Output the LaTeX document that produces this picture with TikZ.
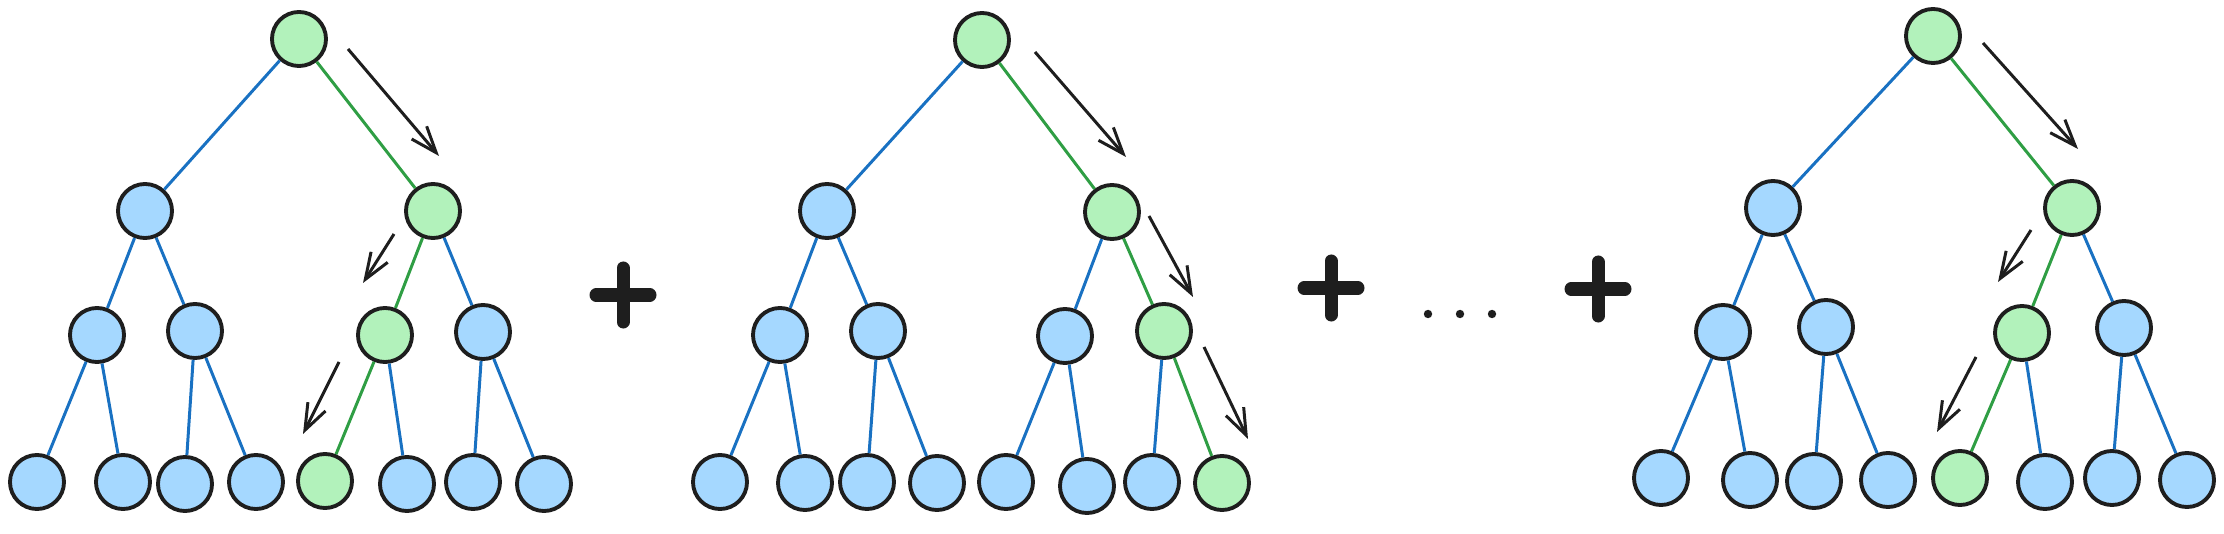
\documentclass[tikz,border=0pt]{standalone}
\usetikzlibrary{arrows.meta}
\definecolor{nodeblue}{HTML}{A5D8FF}
\definecolor{nodegreen}{HTML}{B2F2BB}
\definecolor{edgeblue}{HTML}{1971C2}
\definecolor{edgegreen}{HTML}{2F9E44}
\definecolor{ink}{HTML}{1E1E1E}
\begin{document}
\begin{tikzpicture}[x=0.01cm,y=-0.01cm,
 tn/.style={circle,draw=ink,line width=1.1pt,minimum size=0.54cm,inner sep=0pt},
 bn/.style={tn,fill=nodeblue},
 gn/.style={tn,fill=nodegreen},
 be/.style={draw=edgeblue,line width=0.85pt},
 ge/.style={draw=edgegreen,line width=0.85pt},
 hint/.style={draw=ink,line width=0.85pt,-{Straight Barb[length=7.5pt,width=5.6pt]}},
 plusbar/.style={draw=ink,line width=3.7pt,line cap=round}]
\useasboundingbox (0,0) rectangle (2224,534);

% ---------- Tree 1 ----------
\node[gn] (t1r) at (299,39) {};
\node[bn] (t1a) at (145,211) {};
\node[gn] (t1b) at (433,211) {};
\node[bn] (t1aa) at (97,335) {};
\node[bn] (t1ab) at (195,331) {};
\node[gn] (t1ba) at (385,335) {};
\node[bn] (t1bb) at (483,332) {};
\node[bn] (t1aaa) at (37,482) {};
\node[bn] (t1aab) at (123,482) {};
\node[bn] (t1aba) at (185,484) {};
\node[bn] (t1abb) at (256,482) {};
\node[gn] (t1baa) at (325,481) {};
\node[bn] (t1bab) at (407,484) {};
\node[bn] (t1bba) at (473,482) {};
\node[bn] (t1bbb) at (544,484) {};
\draw[be] (t1r) -- (t1a);
\draw[ge] (t1r) -- (t1b);
\draw[be] (t1a) -- (t1aa);
\draw[be] (t1a) -- (t1ab);
\draw[ge] (t1b) -- (t1ba);
\draw[be] (t1b) -- (t1bb);
\draw[be] (t1aa) -- (t1aaa);
\draw[be] (t1aa) -- (t1aab);
\draw[be] (t1ab) -- (t1aba);
\draw[be] (t1ab) -- (t1abb);
\draw[ge] (t1ba) -- (t1baa);
\draw[be] (t1ba) -- (t1bab);
\draw[be] (t1bb) -- (t1bba);
\draw[be] (t1bb) -- (t1bbb);
\coordinate (h11s) at (348,49);  \coordinate (h11e) at (439,156);
\coordinate (h12s) at (394,234); \coordinate (h12e) at (363,283);
\coordinate (h13s) at (339,362); \coordinate (h13e) at (303,434);
\draw[hint] (h11s) -- (h11e);
\draw[hint] (h12s) -- (h12e);
\draw[hint] (h13s) -- (h13e);

% ---------- plus 1 ----------
\draw[plusbar] (596,295) -- (650,295);
\draw[plusbar] (623,268) -- (623,322);

% ---------- Tree 2 ----------
\node[gn] (t2r) at (982,40) {};
\node[bn] (t2a) at (827,211) {};
\node[gn] (t2b) at (1112,212) {};
\node[bn] (t2aa) at (780,335) {};
\node[bn] (t2ab) at (878,331) {};
\node[bn] (t2ba) at (1065,336) {};
\node[gn] (t2bb) at (1164,331) {};
\node[bn] (t2aaa) at (720,482) {};
\node[bn] (t2aab) at (805,483) {};
\node[bn] (t2aba) at (867,482) {};
\node[bn] (t2abb) at (937,483) {};
\node[bn] (t2baa) at (1006,482) {};
\node[bn] (t2bab) at (1087,486) {};
\node[bn] (t2bba) at (1152,482) {};
\node[gn] (t2bbb) at (1222,483) {};
\draw[be] (t2r) -- (t2a);
\draw[ge] (t2r) -- (t2b);
\draw[be] (t2a) -- (t2aa);
\draw[be] (t2a) -- (t2ab);
\draw[be] (t2b) -- (t2ba);
\draw[ge] (t2b) -- (t2bb);
\draw[be] (t2aa) -- (t2aaa);
\draw[be] (t2aa) -- (t2aab);
\draw[be] (t2ab) -- (t2aba);
\draw[be] (t2ab) -- (t2abb);
\draw[be] (t2ba) -- (t2baa);
\draw[be] (t2ba) -- (t2bab);
\draw[be] (t2bb) -- (t2bba);
\draw[ge] (t2bb) -- (t2bbb);
\coordinate (h21s) at (1035,52);  \coordinate (h21e) at (1126,157);
\coordinate (h22s) at (1149,216); \coordinate (h22e) at (1193,297);
\coordinate (h23s) at (1204,347); \coordinate (h23e) at (1248,439);
\draw[hint] (h21s) -- (h21e);
\draw[hint] (h22s) -- (h22e);
\draw[hint] (h23s) -- (h23e);

% ---------- plus 2, dots, plus 3 ----------
\draw[plusbar] (1304,288) -- (1358,288);
\draw[plusbar] (1331,261) -- (1331,315);
\fill[ink] (1428,314) circle (0.042cm);
\fill[ink] (1460,314) circle (0.042cm);
\fill[ink] (1492,314) circle (0.042cm);
\draw[plusbar] (1571,289) -- (1625,289);
\draw[plusbar] (1598,262) -- (1598,316);

% ---------- Tree 3 ----------
\node[gn] (t3r) at (1933,36) {};
\node[bn] (t3a) at (1773,208) {};
\node[gn] (t3b) at (2072,208) {};
\node[bn] (t3aa) at (1723,332) {};
\node[bn] (t3ab) at (1826,327) {};
\node[gn] (t3ba) at (2022,333) {};
\node[bn] (t3bb) at (2124,328) {};
\node[bn] (t3aaa) at (1661,478) {};
\node[bn] (t3aab) at (1750,480) {};
\node[bn] (t3aba) at (1814,481) {};
\node[bn] (t3abb) at (1888,480) {};
\node[gn] (t3baa) at (1960,478) {};
\node[bn] (t3bab) at (2045,482) {};
\node[bn] (t3bba) at (2112,478) {};
\node[bn] (t3bbb) at (2187,480) {};
\draw[be] (t3r) -- (t3a);
\draw[ge] (t3r) -- (t3b);
\draw[be] (t3a) -- (t3aa);
\draw[be] (t3a) -- (t3ab);
\draw[ge] (t3b) -- (t3ba);
\draw[be] (t3b) -- (t3bb);
\draw[be] (t3aa) -- (t3aaa);
\draw[be] (t3aa) -- (t3aab);
\draw[be] (t3ab) -- (t3aba);
\draw[be] (t3ab) -- (t3abb);
\draw[ge] (t3ba) -- (t3baa);
\draw[be] (t3ba) -- (t3bab);
\draw[be] (t3bb) -- (t3bba);
\draw[be] (t3bb) -- (t3bbb);
\coordinate (h31s) at (1983,43);  \coordinate (h31e) at (2078,149);
\coordinate (h32s) at (2031,230); \coordinate (h32e) at (1998,282);
\coordinate (h33s) at (1976,357); \coordinate (h33e) at (1937,432);
\draw[hint] (h31s) -- (h31e);
\draw[hint] (h32s) -- (h32e);
\draw[hint] (h33s) -- (h33e);
\end{tikzpicture}
\end{document}
